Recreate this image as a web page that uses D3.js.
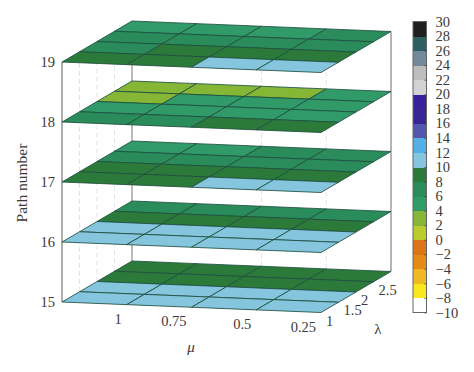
<!DOCTYPE html>
<html><head><meta charset="utf-8">
<script src="https://cdnjs.cloudflare.com/ajax/libs/d3/7.8.5/d3.min.js"></script>
<style>
html,body{margin:0;padding:0;background:#fff}
svg{display:block}
text{font-family:"Liberation Serif",serif;fill:#3a3a3a}
</style></head><body>
<svg id="c" width="474" height="372"></svg>
<script>
// Data
const muEdges = [1.25, 1, 0.75, 0.5, 0.25];
const lambdaEdges = [1, 1.5, 2, 2.5, 3];
const muTicks = [1, 0.75, 0.5, 0.25];
const lambdaTicks = [1, 1.5, 2, 2.5];
const pathLevels = [15, 16, 17, 18, 19];
// rows: lambda front to back; columns: mu left to right
const layer15 = [[11,11,11,11],[11,11,11,11],[9,9,9,9],[9,9,9,9]];
const layer16 = [[11,11,11,11],[11,11,11,11],[9,9,9,9],[7,7,7,7]];
const layer17 = [[9,9,11,11],[9,9,9,9],[7,7,7,7],[5,5,7,7]];
const layer18 = [[7,7,9,9],[5,5,5,5],[3,5,5,5],[3,3,3,5]];
const layer19 = [[9,9,11,11],[7,9,9,9],[7,7,7,7],[5,5,5,7]];
const layers = [layer15, layer16, layer17, layer18, layer19];
const colorBreaks = d3.range(-8, 30, 2);
const colorValues = ["#ffffff","#f8e71c","#f0b822","#e48a16","#dc7418","#bccb2b","#86b636","#309a68","#2a8c5a","#2c7a3a","#85c5de","#55aee6","#5257ad","#3a2596","#38209a","#d2d2d2","#bdbdbd","#74899b","#2c5f62","#1f1f1f"];
const legendTicks = d3.range(-10, 31, 2);

const svg = d3.select("#c");
const color = d3.scaleThreshold().domain(colorBreaks).range(colorValues);
const u = d3.scaleLinear().domain([1.25, 0.25]).range([0, 1]);
const v = d3.scaleLinear().domain([1, 3]).range([0, 1]);
const zY = d3.scaleLinear().domain([15, 19]).range([302, 62]);
const project = (mu, la, z) => [62 + 259*u(mu) + 70*v(la), zY(z) + 10.5*u(mu) - 41*v(la)];

// Walls
const wall = svg.append("g");
const seg = (a, b, stroke, w, dash) => wall.append("line")
  .attr("x1", a[0]).attr("y1", a[1]).attr("x2", b[0]).attr("y2", b[1])
  .attr("stroke", stroke).attr("stroke-width", w).attr("stroke-dasharray", dash || null);
lambdaEdges.slice(1, 4).forEach(l =>
  seg(project(1.25, l, 15), project(1.25, l, 19), "#e6e6e6", 1, "5,3"));
muEdges.slice(2).forEach(m =>
  seg(project(m, 3, 15), project(m, 3, 19), "#e6e6e6", 1, "5,3"));
seg(project(1.25, 1, 15), project(1.25, 1, 19), "#999", 1.6);
seg(project(1.25, 3, 15), project(1.25, 3, 19), "#aaa", 1.6);
seg(project(0.25, 3, 15), project(0.25, 3, 19), "#999", 1.4);

// Layers
const line = d3.line();
pathLevels.forEach((z, k) => {
  const g = svg.append("g");
  const cells = [];
  layers[k].forEach((row, r) => row.forEach((val, c) => cells.push({r, c, val})));
  g.selectAll("path").data(cells.sort((a, b) => b.r - a.r)).join("path")
    .attr("d", d => line([
      project(muEdges[d.c], lambdaEdges[d.r], z),
      project(muEdges[d.c+1], lambdaEdges[d.r], z),
      project(muEdges[d.c+1], lambdaEdges[d.r+1], z),
      project(muEdges[d.c], lambdaEdges[d.r+1], z)]) + "Z")
    .attr("fill", d => color(d.val))
    .attr("stroke", "#1f4f40").attr("stroke-width", 0.85).attr("stroke-linejoin", "round");
});

// Axes labels
const axZ = d3.axisLeft(zY).tickValues(pathLevels).tickSize(0).tickPadding(7).tickFormat(d3.format("d"));
svg.append("g").attr("transform", "translate(62,0)").call(axZ)
  .call(g => g.select(".domain").remove())
  .selectAll("text").attr("font-size", 14.5).attr("font-family", '"Liberation Serif",serif');

svg.selectAll("text.mu").data(muTicks).join("text").attr("class", "mu")
  .attr("x", d => project(d, 1, 15)[0] - 5)
  .attr("y", d => project(d, 1, 15)[1] + 19)
  .attr("text-anchor", "end").attr("font-size", 14.5)
  .text(d => d);
svg.selectAll("text.la").data(lambdaTicks).join("text").attr("class", "la")
  .attr("x", d => project(0.25, d, 15)[0] + 5)
  .attr("y", d => project(0.25, d, 15)[1] + 13)
  .attr("font-size", 14.5)
  .text(d => d);

svg.append("text").attr("transform", "translate(27,183) rotate(-90)")
  .attr("text-anchor", "middle").attr("font-size", 15.5).text("Path number");
svg.append("text").attr("x", 191).attr("y", 352).attr("text-anchor", "middle")
  .attr("font-size", 15).attr("font-style", "italic").text("μ");
svg.append("text").attr("x", 378).attr("y", 334).attr("text-anchor", "middle")
  .attr("font-size", 15).text("λ");

// Colour bar
const legendY = d3.scaleLinear().domain([-10, 30]).range([312.5, 21.5]);
const barX = 413, barW = 13.5;
svg.append("g").attr("shape-rendering", "crispEdges").selectAll("rect").data(colorValues).join("rect")
  .attr("x", barX).attr("width", barW)
  .attr("y", (d, i) => legendY(-10 + 2*(i+1)))
  .attr("height", (d, i) => legendY(-10 + 2*i) - legendY(-10 + 2*(i+1)) + 0.5)
  .attr("fill", d => d);
svg.append("rect").attr("x", barX).attr("y", legendY(30)).attr("width", barW)
  .attr("height", legendY(-10) - legendY(30)).attr("fill", "none")
  .attr("stroke", "#666").attr("stroke-width", 1);
const axL = d3.axisRight(legendY).tickValues(legendTicks).tickSize(-2).tickPadding(9);
svg.append("g").attr("transform", `translate(${barX + barW},0)`).call(axL)
  .call(g => g.select(".domain").remove())
  .call(g => g.selectAll("line").attr("stroke", "#333").attr("stroke-opacity", 0.7))
  .selectAll("text").attr("font-size", 14.5).attr("font-family", '"Liberation Serif",serif');
</script>
</body></html>
